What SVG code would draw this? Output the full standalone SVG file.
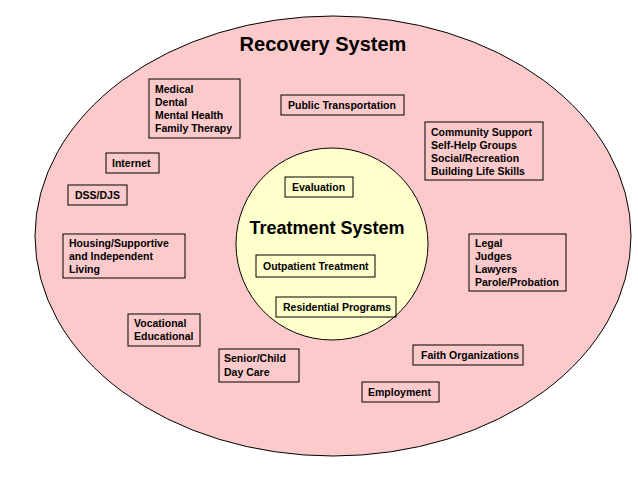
<svg xmlns="http://www.w3.org/2000/svg" width="638" height="478" viewBox="0 0 638 478">
<style>
.b{fill:none;stroke:#000;stroke-width:1}
text{font-family:"Liberation Sans",Arial,sans-serif;font-weight:bold;font-size:10.5px;fill:#000}
.t{font-size:20px}
.u{font-size:18px}
</style>
<rect width="638" height="478" fill="#fff"/>
<ellipse cx="333" cy="236" rx="298" ry="220" fill="#fccaca" stroke="#000"/>
<circle cx="332" cy="244" r="96" fill="#ffffcc" stroke="#000"/>
<text class="t" x="323" y="51" text-anchor="middle">Recovery System</text>
<text class="u" x="327" y="234" text-anchor="middle">Treatment System</text>
<g id="medical"><rect class="b" x="149" y="79" width="91" height="59"/><text x="155" y="93">Medical</text><text x="155" y="106">Dental</text><text x="155" y="119">Mental Health</text><text x="155" y="132">Family Therapy</text></g>
<g id="transport"><rect class="b" x="281" y="95" width="123" height="20"/><text x="288" y="109">Public Transportation</text></g>
<g id="community"><rect class="b" x="425" y="122" width="118" height="58"/><text x="431" y="136">Community Support</text><text x="431" y="149">Self-Help Groups</text><text x="431" y="162">Social/Recreation</text><text x="431" y="175">Building Life Skills</text></g>
<g id="internet"><rect class="b" x="106" y="153" width="53" height="20"/><text x="112" y="167">Internet</text></g>
<g id="evaluation"><rect class="b" x="285" y="177" width="68" height="20"/><text x="292" y="191">Evaluation</text></g>
<g id="dss"><rect class="b" x="68" y="185" width="59" height="20"/><text x="75" y="199">DSS/DJS</text></g>
<g id="housing"><rect class="b" x="63" y="234" width="122" height="44"/><text x="69" y="247">Housing/Supportive</text><text x="69" y="260">and Independent</text><text x="69" y="273">Living</text></g>
<g id="legal"><rect class="b" x="469" y="234" width="97" height="57"/><text x="475" y="247">Legal</text><text x="475" y="260">Judges</text><text x="475" y="273">Lawyers</text><text x="475" y="286">Parole/Probation</text></g>
<g id="outpatient"><rect class="b" x="256" y="255" width="119" height="22"/><text x="263" y="270">Outpatient Treatment</text></g>
<g id="residential"><rect class="b" x="276" y="297" width="120" height="20"/><text x="283" y="311">Residential Programs</text></g>
<g id="vocational"><rect class="b" x="128" y="314" width="72" height="32"/><text x="134" y="327">Vocational</text><text x="134" y="340">Educational</text></g>
<g id="faith"><rect class="b" x="413" y="345" width="110" height="20"/><text x="421" y="359">Faith Organizations</text></g>
<g id="senior"><rect class="b" x="219" y="349" width="80" height="33"/><text x="224" y="362">Senior/Child</text><text x="224" y="376">Day Care</text></g>
<g id="employment"><rect class="b" x="362" y="382" width="77" height="20"/><text x="368" y="396">Employment</text></g>
<g id="connectors"></g>
</svg>
